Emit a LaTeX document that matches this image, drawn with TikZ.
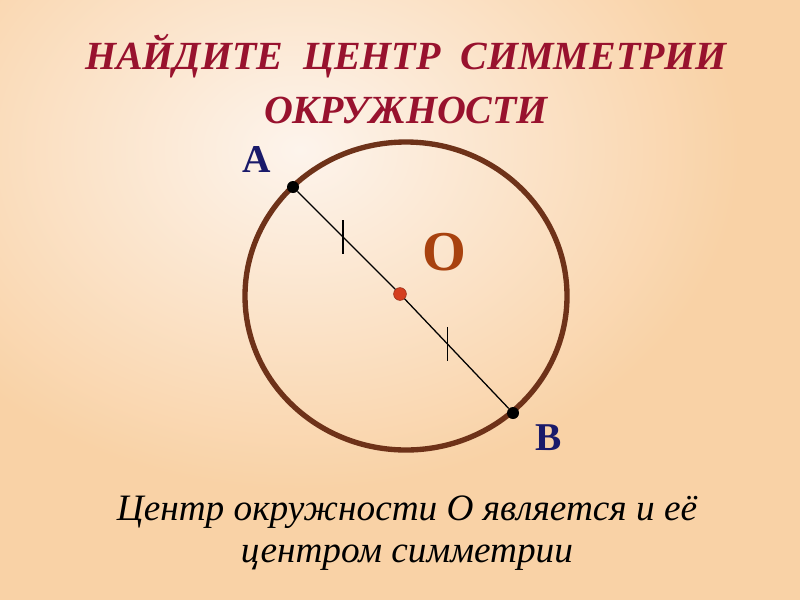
\documentclass[tikz,border=0pt]{standalone}
\usepackage{fontspec}
\setmainfont{Liberation Serif}
\usetikzlibrary{positioning, calc}

\definecolor{peach}{RGB}{249,210,166}
\definecolor{paleglow}{RGB}{253,244,236}
\definecolor{titlered}{RGB}{152,18,46}
\definecolor{navy}{RGB}{26,26,106}
\definecolor{rimbrown}{RGB}{110,50,25}
\definecolor{obrown}{RGB}{168,66,15}
\definecolor{dotred}{RGB}{212,62,30}

\begin{document}
\begin{tikzpicture}[
            x=0.025cm, y=-0.025cm,
            title/.style = {align=center, inner sep=0pt, text=titlered,
                    font=\bfseries\itshape\fontsize{28.4}{39}\selectfont},
            letter/.style = {inner sep=0pt, text=navy, font=\bfseries\fontsize{28}{30}\selectfont},
            centrelabel/.style = {inner sep=0pt, text=obrown, font=\bfseries\fontsize{40}{42}\selectfont},
            caption/.style = {align=center, inner sep=0pt, text=black,
                    font=\itshape\fontsize{26.5}{30}\selectfont},
            endpoint/.style = {circle, fill=black, inner sep=0pt, minimum size=3mm},
            centrepoint/.style = {circle, fill=dotred, draw=dotred!70!black, line width=0.4pt,
                    inner sep=0pt, minimum size=3.2mm},
            rim/.style = {draw=rimbrown, line width=3.8pt},
            chord/.style = {draw=black, line width=0.9pt},
            tick/.style = {draw=black, line width=1.2pt}
        ]
        \useasboundingbox (0,0) rectangle (800,600);
        \clip (0,0) rectangle (800,600);
        % background
        \fill[peach] (0,0) rectangle (800,600);
        \shade[inner color=paleglow, outer color=peach] (300,150) ellipse [x radius=440, y radius=340];

        \node (head) [title] at (406,79) {НАЙДИТЕ~ ЦЕНТР~ СИММЕТРИИ\\ ОКРУЖНОСТИ};

        \draw[rim] (406,296) ellipse [x radius=161, y radius=154];

        \node (A) [endpoint]    at (293,187) {};
        \node (B) [endpoint]    at (513,413) {};
        \node (O) [centrepoint] at (400,294) {};

        \draw[chord] (A) -- (O);
        \draw[chord] (O) -- (B);

        \coordinate (t1) at ($(A)!0.47!(O)$);
        \coordinate (t2) at ($(O)!0.42!(B)$);
        \draw[tick] ($(t1)+(0,-17)$) -- ($(t1)+(0,17)$);
        \draw[tick] ($(t2)+(0,-17)$) -- ($(t2)+(0,17)$);

        \node (labA) [letter] at (257,159) {A};
        \node (labB) [letter] at (549,438) {B};
        \node (labO) [centrelabel] at (444,252) {O};

        \node (note) [caption] at (407,533) {Центр окружности О является и её\\ центром симметрии};
    \end{tikzpicture}
\end{document}
